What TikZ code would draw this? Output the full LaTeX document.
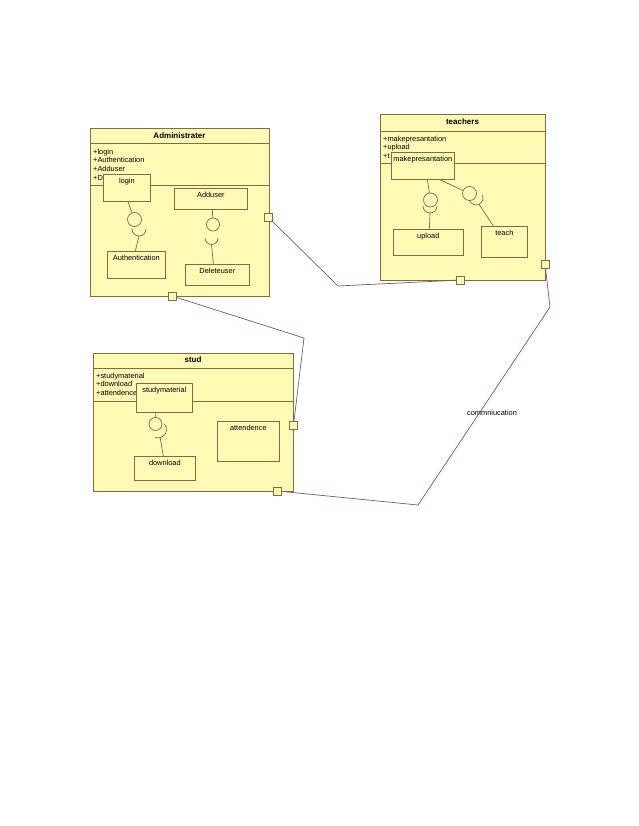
\documentclass[tikz,border=0pt]{standalone}
\usepackage{fontspec}
\setmainfont{Liberation Sans}
\definecolor{umlfill}{HTML}{FFF9B6}
\definecolor{bord}{HTML}{7E6C45}
\definecolor{connc}{HTML}{7A5A5E}
\begin{document}
\begin{tikzpicture}[x=1pt,y=-1pt,
  every node/.style={font=\fontsize{7.4}{8.7}\selectfont, text=black},
  cls/.style={draw=bord, fill=umlfill, line width=0.7pt, anchor=north west, inner sep=0pt},
  comp/.style={draw=bord, fill=umlfill, line width=0.7pt, anchor=north west, inner sep=0pt},
  lbl/.style={anchor=north, inner sep=0pt, yshift=-4pt},
  ttl/.style={font=\fontsize{8}{9}\selectfont\bfseries},
  attr/.style={anchor=north west, align=left, inner sep=0pt},
  port/.style={draw=bord, fill=umlfill, line width=0.6pt, minimum size=8pt, inner sep=0pt},
  ball/.style={circle, draw=bord, line width=0.7pt, minimum size=13pt, inner sep=0pt},
  wire/.style={draw=bord, line width=0.7pt},
  conn/.style={draw=connc, line width=0.7pt}]
\useasboundingbox (0,0) rectangle (638,826);

% ---------- Administrater ----------
\node[cls, minimum width=179pt, minimum height=168pt] (admin) at (90,128) {};
\draw[wire] ([yshift=-15.5pt]admin.north west) -- ([yshift=-15.5pt]admin.north east);
\draw[wire] ([yshift=-57pt]admin.north west) -- ([yshift=-57pt]admin.north east);
\node[ttl] (admint) at (179.5,135.5) {Administrater};
\node[attr] (admina) at (93,148.5) {+login\\+Authentication\\+Adduser\\+D};
\node[comp, minimum width=47pt, minimum height=27pt, label={[lbl]north:login}] (login) at (103,174) {};
\node[comp, minimum width=73pt, minimum height=21pt, label={[lbl]north:Adduser}] (adduser) at (174,188) {};
\node[comp, minimum width=58pt, minimum height=27pt, label={[lbl]north:Authentication}] (auth) at (107,251) {};
\node[comp, minimum width=64pt, minimum height=21pt, label={[lbl]north:Deleteuser}] (deluser) at (185,264) {};
% lollipop login -> Authentication
\node[ball, minimum size=14pt] (ball1) at (134.5,219.5) {};
\draw[wire] ([xshift=1pt]login.south) -- (ball1);
\coordinate (cup1) at (139,236);
\draw[wire] (146,229) arc[start angle=0, end angle=180, radius=7];
\draw[wire] (cup1) -- ([xshift=-1pt]auth.north);
% lollipop Adduser -> Deleteuser
\node[ball] (ball2) at (213,224.5) {};
\draw[wire] ([xshift=1.5pt]adduser.south) -- (ball2);
\coordinate (cup2) at (211.5,244.5);
\draw[wire] (218,238) arc[start angle=0, end angle=180, radius=6.5];
\draw[wire] (cup2) -- ([xshift=-4pt]deluser.north);

% ---------- teachers ----------
\node[cls, minimum width=165pt, minimum height=166pt] (teachers) at (380,114) {};
\draw[wire] ([yshift=-17pt]teachers.north west) -- ([yshift=-17pt]teachers.north east);
\draw[wire] ([yshift=-49pt]teachers.north west) -- ([yshift=-49pt]teachers.north east);
\node[ttl] (teacherst) at (462.5,122) {teachers};
\node[attr] (teachersa) at (383,135.5) {+makepresantation\\+upload\\+t};
\node[comp, minimum width=63pt, minimum height=27pt, label={[lbl]north:makepresantation}] (makep) at (391,152) {};
\node[comp, minimum width=70pt, minimum height=26pt, label={[lbl]north:upload}] (upload) at (393,229) {};
\node[comp, minimum width=46pt, minimum height=31pt, label={[lbl]north:teach}] (teach) at (481,226) {};
% lollipop makepresantation -> upload
\node[ball, minimum size=14pt] (ball3) at (430.5,200) {};
\draw[wire] ([xshift=4.5pt]makep.south) -- (ball3);
\coordinate (cup3) at (430,213);
\draw[wire] (437,206) arc[start angle=0, end angle=180, radius=7];
\draw[wire] (cup3) -- ([xshift=1pt]upload.north);
% lollipop makepresantation -> teach
\node[ball, minimum size=14pt] (ball4) at (469.5,193.5) {};
\draw[wire] ([xshift=17pt]makep.south) -- (ball4);
\coordinate (cup4) at (479,204.3);
\draw[wire] (482.3,194.9) arc[start angle=-26, end angle=154, radius=7];
\draw[wire] (cup4) -- ([xshift=-11pt]teach.north);

% ---------- stud ----------
\node[cls, minimum width=200pt, minimum height=138pt] (stud) at (93,353) {};
\draw[wire] ([yshift=-15pt]stud.north west) -- ([yshift=-15pt]stud.north east);
\draw[wire] ([yshift=-48pt]stud.north west) -- ([yshift=-48pt]stud.north east);
\node[ttl] (studt) at (193,360) {stud};
\node[attr] (studa) at (96,372.5) {+studymaterial\\+download\\+attendence};
\node[comp, minimum width=56pt, minimum height=29pt, label={[lbl]north:studymaterial}] (studym) at (136,383) {};
\node[comp, minimum width=62pt, minimum height=40pt, label={[lbl]north:attendence}] (attend) at (217,421) {};
\node[comp, minimum width=61pt, minimum height=24pt, label={[lbl]north:download}] (download) at (134,456) {};
% lollipop studymaterial -> download
\node[ball, minimum size=13pt] (ball5) at (155.5,424) {};
\draw[wire] ([xshift=-8.5pt]studym.south) -- (ball5);
\coordinate (cup5) at (160,437);
\draw[wire] (164.5,424) arc[start angle=-40, end angle=110, radius=8.5];
\draw[wire] (cup5) -- ([xshift=-1.5pt]download.north);

% ---------- ports ----------
\node[port] (adminR) at (268,217) {};
\node[port] (adminB) at (172,296) {};
\node[port] (teachR) at (545,264) {};
\node[port] (teachB) at (460.5,280) {};
\node[port] (studR) at (293.5,425) {};
\node[port] (studB) at (277.5,491) {};

% ---------- connectors ----------
\coordinate (b1) at (338,286);
\coordinate (b2) at (304,338);
\coordinate (b3) at (550,307);
\coordinate (b4) at (418,505);
\draw[conn] (adminR) -- (b1) -- (teachB);
\draw[conn] (adminB) -- (b2) -- (studR);
\draw[conn] (teachR) -- (b3) -- (b4) -- (studB);
\node[inner sep=0pt] (commlbl) at (492,413) {commniucation};
\end{tikzpicture}
\end{document}
